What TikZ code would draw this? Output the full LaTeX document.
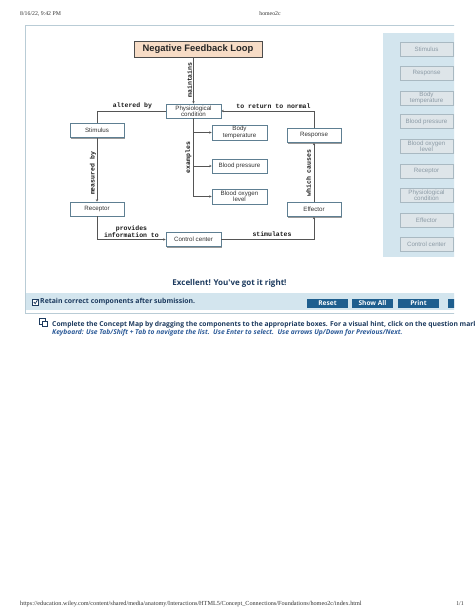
\documentclass[tikz,border=0pt]{standalone}
\usepackage{fontspec}
\setmainfont{Liberation Sans}
\newfontfamily\seriffam{Liberation Serif}
\newfontfamily\monofam{Liberation Mono}
\newfontfamily\osfam{Open Sans}
\usetikzlibrary{arrows.meta,shadows}
\definecolor{framecol}{HTML}{B9CCD6}
\definecolor{panelcol}{HTML}{D3E5EE}
\definecolor{itemfill}{HTML}{DEE5E9}
\definecolor{itemdraw}{HTML}{A9B9C2}
\definecolor{itemtext}{HTML}{8C9BA6}
\definecolor{boxdraw}{HTML}{5E7F92}
\definecolor{linecol}{HTML}{555555}
\definecolor{titlefill}{HTML}{F7DCC6}
\definecolor{navy}{HTML}{1C3A5E}
\definecolor{btncol}{HTML}{1E5E8E}
\definecolor{hintblue}{HTML}{2B5A98}
\tikzset{
  concept/.style={draw=boxdraw, fill=white, line width=0.5pt, minimum height=14pt, inner sep=0pt,
    align=center, text=black!80, font=\fontsize{6.2}{6.4}\selectfont,
    drop shadow={shadow xshift=1.2pt, shadow yshift=-1.2pt, fill=black!40, opacity=1}},
  item/.style={draw=itemdraw, fill=itemfill, line width=0.5pt, minimum width=53pt, minimum height=14pt,
    inner sep=0pt, align=center, text=itemtext, font=\fontsize{6.2}{6.4}\selectfont},
  linklabel/.style={font=\monofam\bfseries\fontsize{6.5}{6.8}\selectfont, text=black!90, inner sep=0pt, align=center},
  conn/.style={draw=linecol, line width=0.5pt},
  tip/.style={-{Stealth[length=2.6pt,width=2.4pt]}},
  btn/.style={fill=btncol, text=white, minimum height=9pt, inner sep=0pt, font=\osfam\bfseries\fontsize{6.6}{7}\selectfont},
  hdr/.style={font=\seriffam\fontsize{5.8}{6}\selectfont, text=black!80, inner sep=0pt}
}
\begin{document}
\begin{tikzpicture}[x=1pt,y=-1pt]
\clip (0,0) rectangle (474,613);
\fill[white] (0,0) rectangle (474,613);
% header and footer
\node[hdr, anchor=west] (hdate) at (20,14) {8/16/22, 9:42 PM};
\node[hdr] (htitle) at (270,14) {homeo2c};
\node[hdr, anchor=west, font=\seriffam\fontsize{6.2}{6.5}\selectfont] (furl) at (20,604) {https://education.wiley.com/content/shared/media/anatomy/Interactions/HTML5/Concept\_Connections/Foundations/homeo2c/index.html};
\node[hdr] (fpage) at (460,604) {1/1};
% frame region clipped at right
\begin{scope}
\clip (0,0) rectangle (454,613);
\draw[framecol, line width=1pt] (474,25) -- (25,25) -- (25,313) -- (474,313);
\fill[panelcol] (383,33) rectangle (474,257);
\node[item] (i1) at (426.5,49) {Stimulus};
\node[item] (i2) at (426.5,73.5) {Response};
\node[item] (i3) at (426.5,98) {Body\\temperature};
\node[item] (i4) at (426.5,121.5) {Blood pressure};
\node[item] (i5) at (426.5,146.5) {Blood oxygen\\level};
\node[item] (i6) at (426.5,171) {Receptor};
\node[item] (i7) at (426.5,195.5) {Physiological\\condition};
\node[item] (i8) at (426.5,220) {Effector};
\node[item] (i9) at (426.5,244.5) {Control center};
\fill[panelcol] (25.5,293) rectangle (474,310);
\node[btn, minimum width=41pt] (breset) at (327.5,303.5) {Reset};
\node[btn, minimum width=41pt] (bshow) at (372.5,303.5) {Show All};
\node[btn, minimum width=41pt] (bprint) at (418.5,303.5) {Print};
\node[btn, minimum width=10pt] (bmore) at (453,303.5) {};
\end{scope}
% checkbox and retain text
\draw[navy, line width=0.6pt, fill=white] (32.5,299) rectangle (38.5,305);
\draw[navy, line width=0.8pt] (33.8,302) -- (35.2,303.6) -- (37.4,300.2);
\node[anchor=west, inner sep=0pt, text=navy, font=\osfam\bfseries\fontsize{6.9}{7.5}\selectfont] (retain) at (40,302) {Retain correct components after submission.};
\node[inner sep=0pt, text=navy, font=\osfam\bfseries\fontsize{8}{9}\selectfont] (excellent) at (229.5,283) {Excellent! You've got it right!};
% instructions
\draw[navy, line width=0.8pt, fill=white] (39.5,318.5) rectangle (45,324);
\draw[navy, line width=0.8pt, fill=white] (42,321) rectangle (47.5,326.5);
\node[anchor=west, inner sep=0pt, text=navy, font=\osfam\bfseries\fontsize{6.75}{7.5}\selectfont] (instr1) at (52,324.5) {Complete the Concept Map by dragging the components to the appropriate boxes. For a visual hint, click on the question mark};
\node[anchor=west, inner sep=0pt, text=hintblue, font=\osfam\bfseries\itshape\fontsize{6.7}{7.5}\selectfont] (instr2) at (52,333) {Keyboard: Use Tab/Shift + Tab to navigate the list.\ \ Use Enter to select.\ \ Use arrows Up/Down for Previous/Next.};
% concept map
\node[draw=black!70, fill=titlefill, line width=0.5pt, minimum width=128pt, minimum height=16pt, inner sep=0pt,
  font=\bfseries\fontsize{9.4}{10}\selectfont, text=black!85] (title) at (198,49) {Negative Feedback Loop};
\node[concept, minimum width=55pt] (phys) at (193.5,111) {Physiological\\condition};
\node[concept, minimum width=54pt] (stim) at (97,130.5) {Stimulus};
\node[concept, minimum width=54pt] (resp) at (314,135.5) {Response};
\node[concept, minimum width=55pt, minimum height=15pt] (body) at (239.5,132.5) {Body\\temperature};
\node[concept, minimum width=55pt] (bp) at (239.5,166) {Blood pressure};
\node[concept, minimum width=55pt, minimum height=15pt] (bo) at (239.5,196.5) {Blood oxygen\\level};
\node[concept, minimum width=54pt] (rec) at (97,209) {Receptor};
\node[concept, minimum width=54pt] (eff) at (314,209.5) {Effector};
\node[concept, minimum width=55pt] (cc) at (193.5,239.5) {Control center};
\coordinate (ex1) at (193.5,132.5);
\coordinate (ex2) at (193.5,166);
\coordinate (ex3) at (193.5,196.5);
% connectors
\draw[conn, tip] (phys.north |- title.south) -- (phys.north);
\draw[conn] (phys.west) -| (stim.north);
\draw[conn, tip] (resp.north) |- (phys.east);
\draw[conn] (phys.south) -- (ex3);
\draw[conn, tip] (ex1) -- (body.west);
\draw[conn, tip] (ex2) -- (bp.west);
\draw[conn, tip] (ex3) -- (bo.west);
\draw[conn, tip] (stim.south) -- (rec.north);
\draw[conn, tip] (rec.south) |- (cc.west);
\draw[conn, tip] (cc.east) -| (eff.south);
\draw[conn, tip] (eff.north) -- (resp.south);
% link labels
\node[linklabel, rotate=90] (lmaint) at (189.5,80) {maintains};
\node[linklabel] (lalt) at (132.5,106) {altered by};
\node[linklabel] (lret) at (273.5,106) {to return to normal};
\node[linklabel, rotate=90] (lex) at (188.5,157.5) {examples};
\node[linklabel, rotate=90] (lmeas) at (93,173.5) {measured by};
\node[linklabel, rotate=90] (lwhich) at (308.5,173) {which causes};
\node[linklabel, font=\monofam\bfseries\fontsize{6.5}{7.2}\selectfont] (lprov) at (131.5,231.5) {provides\\information to};
\node[linklabel] (lstim) at (272,234) {stimulates};
\end{tikzpicture}
\end{document}
